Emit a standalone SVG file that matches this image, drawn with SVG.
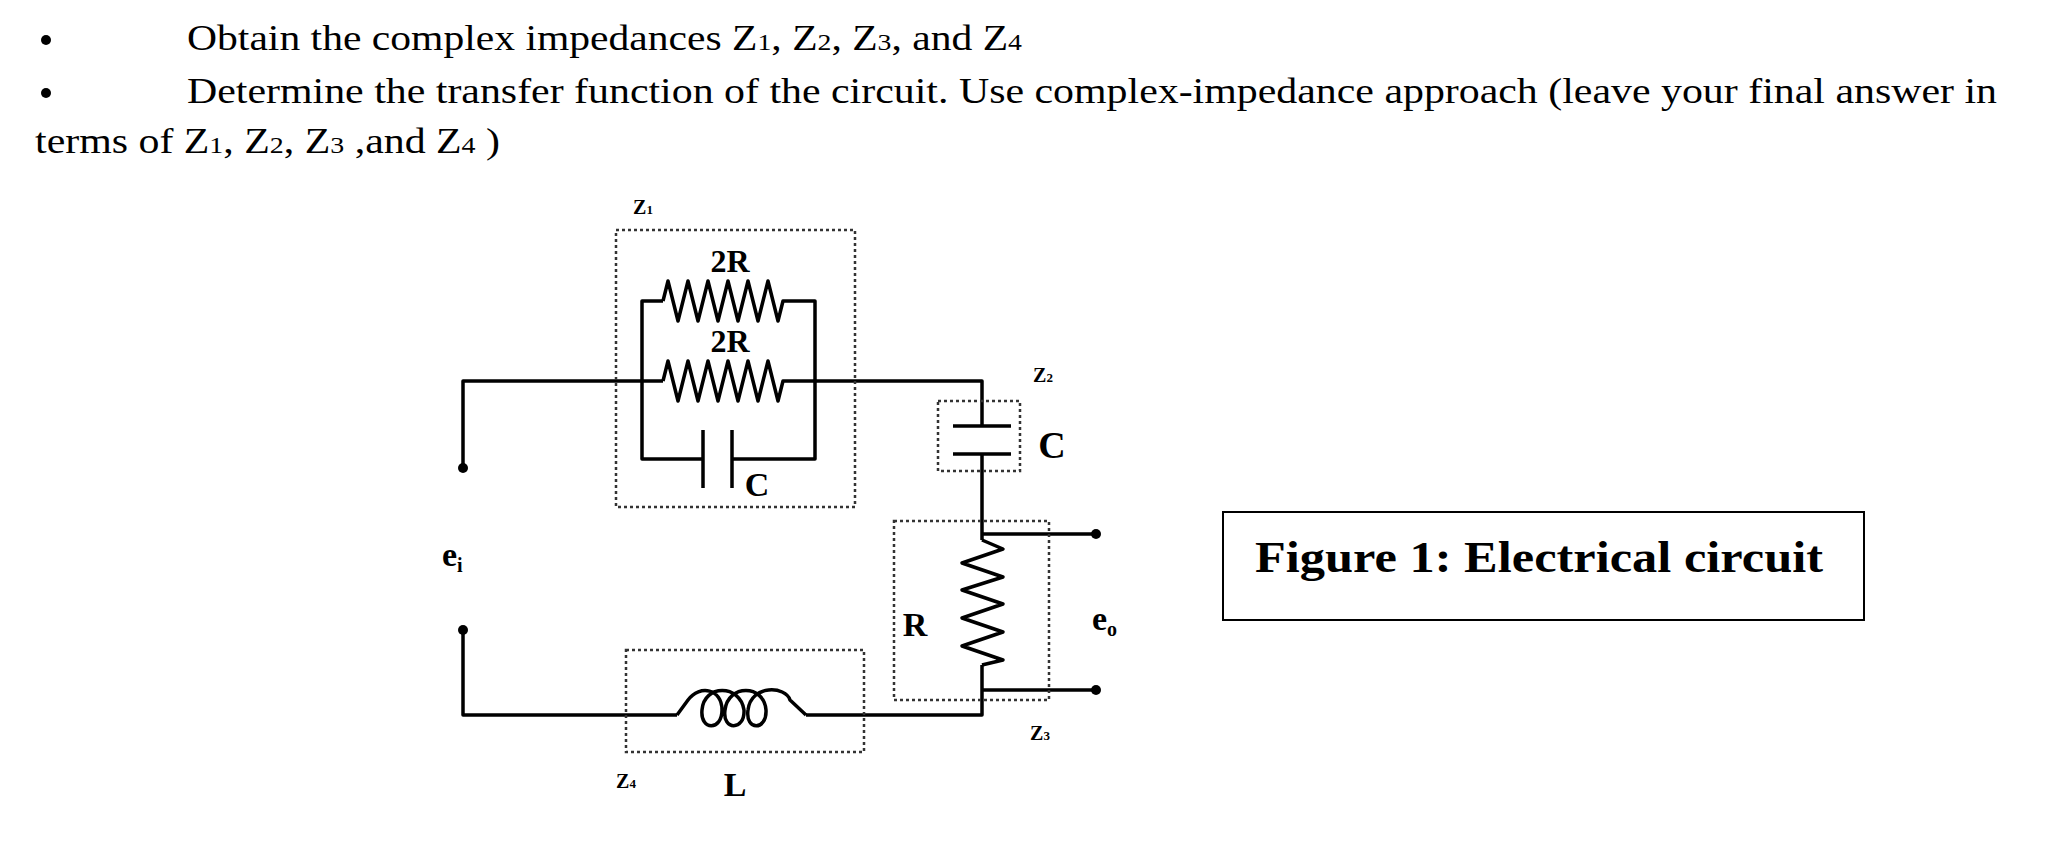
<svg xmlns="http://www.w3.org/2000/svg" width="2046" height="847" viewBox="0 0 2046 847">
<style>
.t{font-family:"Liberation Serif","Times New Roman",serif;fill:#000}
.b{font-weight:bold}
.w{fill:none;stroke:#000;stroke-width:3.5;stroke-linejoin:round}
.box{fill:none;stroke:#333;stroke-width:2.5;stroke-dasharray:3 3}
</style>
<rect width="2046" height="847" fill="#fff"/>
<g id="text">
<circle cx="46" cy="40" r="5"/>
<text class="t" x="187" y="50" font-size="36" textLength="835" lengthAdjust="spacingAndGlyphs">Obtain the complex impedances Z<tspan font-size="24">1</tspan>, Z<tspan font-size="24">2</tspan>, Z<tspan font-size="24">3</tspan>, and Z<tspan font-size="24">4</tspan></text>
<circle cx="46" cy="93" r="5"/>
<text class="t" x="187" y="103" font-size="36" textLength="1810" lengthAdjust="spacingAndGlyphs">Determine the transfer function of the circuit. Use complex-impedance approach  (leave your final answer in</text>
<text class="t" x="35" y="153" font-size="36" textLength="465" lengthAdjust="spacingAndGlyphs">terms of Z<tspan font-size="24">1</tspan>, Z<tspan font-size="24">2</tspan>, Z<tspan font-size="24">3</tspan> ,and Z<tspan font-size="24">4</tspan> )</text>
</g>
<g id="connectors">
<path class="w" d="M463,468 V381 H663 M788,381 H982 V426 M982,454 V540 M982,665 V715 H806 M677,715 H463 V630"/>
<path class="w" d="M642,381 V301 H663 M788,301 H815 V459 H732 M703,459 H642 V381"/>
<path class="w" d="M982,534 H1096 M982,690 H1096"/>
<circle cx="463" cy="468" r="5"/><circle cx="463" cy="630" r="5"/>
<circle cx="1096" cy="534" r="5"/><circle cx="1096" cy="690" r="5"/>
</g>
<g id="Z1">
<rect class="box" x="616" y="230" width="239" height="277"/>
<path class="w" d="M663,301 L668,281 L678,321 L688,281 L698,321 L708,281 L718,321 L728,281 L738,321 L748,281 L758,321 L768,281 L778,321 L783,301 H788"/>
<path class="w" d="M663,381 L668,361 L678,401 L688,361 L698,401 L708,361 L718,401 L728,361 L738,401 L748,361 L758,401 L768,361 L778,401 L783,381 H788"/>
<path class="w" d="M703,430 V488 M732,430 V488"/>
<text class="t b" x="730" y="272" font-size="32" text-anchor="middle">2R</text>
<text class="t b" x="730" y="352" font-size="32" text-anchor="middle">2R</text>
<text class="t b" x="757" y="496" font-size="34" text-anchor="middle">C</text>
<text class="t b" x="643" y="214" font-size="20" text-anchor="middle">Z<tspan font-size="13">1</tspan></text>
</g>
<g id="Z2">
<rect class="box" x="938" y="401" width="82" height="70"/>
<path class="w" d="M953,426 H1011 M953,454 H1011"/>
<text class="t b" x="1043" y="382" font-size="20" text-anchor="middle">Z<tspan font-size="13">2</tspan></text>
<text class="t b" x="1052" y="458" font-size="38" text-anchor="middle">C</text>
</g>
<g id="Z3">
<rect class="box" x="894" y="521" width="155" height="179"/>
<path class="w" d="M982,540 L1003,549 L962,563 L1003,577 L962,590 L1003,604 L962,618 L1003,632 L962,646 L1003,660 L982,665"/>
<text class="t b" x="915" y="636" font-size="34" text-anchor="middle">R</text>
<text class="t b" x="1040" y="740" font-size="20" text-anchor="middle">Z<tspan font-size="13">3</tspan></text>
</g>
<g id="Z4">
<rect class="box" x="626" y="650" width="238" height="102"/>
<path class="w" d="M677,715 L688,700 C700,684 722,689 722,710 C722,731 700,731 702,710 C704,684 740,684 744,710 C745,731 722,731 725,710 C728,684 764,684 766,710 C767,731 745,731 748,710 C751,684 786,686 790,700 L806,715"/>
<text class="t b" x="626" y="788" font-size="20" text-anchor="middle">Z<tspan font-size="13">4</tspan></text>
<text class="t b" x="735" y="796" font-size="34" text-anchor="middle">L</text>
</g>
<g id="ports">
<text class="t b" x="442" y="566" font-size="34">e<tspan font-size="20" dy="6">i</tspan></text>
<text class="t b" x="1092" y="630" font-size="34">e<tspan font-size="20" dy="6">o</tspan></text>
</g>
<g id="caption">
<rect x="1223" y="512" width="641" height="108" fill="none" stroke="#000" stroke-width="2"/>
<text class="t b" x="1255" y="572" font-size="44" textLength="568" lengthAdjust="spacingAndGlyphs">Figure 1: Electrical circuit</text>
</g>
</svg>
